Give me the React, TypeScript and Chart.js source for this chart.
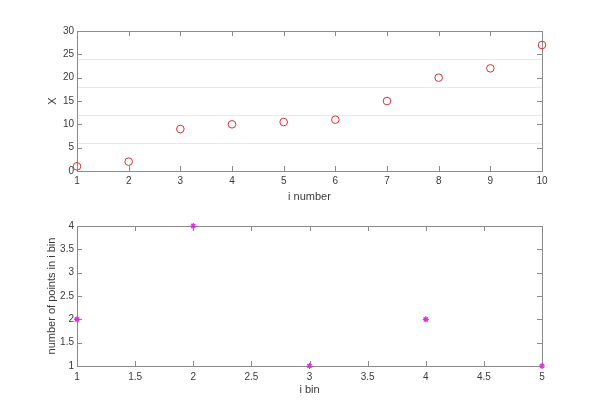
import { useEffect, useRef } from 'react';
import { Chart, registerables } from 'chart.js';

Chart.register(...registerables);

// top subplot: X against i number
const iNumber = [1, 2, 3, 4, 5, 6, 7, 8, 9, 10];
const xValues = [1, 2, 9, 10, 10.5, 11, 15, 20, 22, 27];
const topXTicks = [1, 2, 3, 4, 5, 6, 7, 8, 9, 10];
const topYTicks = [0, 5, 10, 15, 20, 25, 30];
const topGreenLines = [0, 6, 12, 18, 24, 30];

// bottom subplot: points per bin
const binIndex = [1, 2, 3, 4, 5];
const binCounts = [2, 4, 1, 2, 1];
const bottomXTicks = [1, 1.5, 2, 2.5, 3, 3.5, 4, 4.5, 5];
const bottomYTicks = [1, 1.5, 2, 2.5, 3, 3.5, 4];

const FONT = "'Liberation Sans', Arial, sans-serif";
const AXIS_COLOR = '#8a8a8a';
const TEXT_COLOR = '#3a3a3a';
const TICK_LEN = 5;

// MATLAB-like box with inward ticks on all four sides, plus optional green lines
const boxPlugin = {
  id: 'matlabBox',
  beforeDatasetsDraw(chart: any, _args: any, opts: any) {
    const { ctx, chartArea: a, scales } = chart;
    const xs = scales.x;
    const ys = scales.y;
    ctx.save();
    ctx.strokeStyle = AXIS_COLOR;
    ctx.lineWidth = 1;
    ctx.strokeRect(Math.round(a.left) + 0.5, Math.round(a.top) + 0.5,
      Math.round(a.right - a.left), Math.round(a.bottom - a.top));
    ctx.beginPath();
    xs.ticks.forEach((t: any) => {
      const px = Math.round(xs.getPixelForValue(t.value)) + 0.5;
      ctx.moveTo(px, a.bottom);
      ctx.lineTo(px, a.bottom - TICK_LEN);
      ctx.moveTo(px, a.top);
      ctx.lineTo(px, a.top + TICK_LEN);
    });
    ys.ticks.forEach((t: any) => {
      const py = Math.round(ys.getPixelForValue(t.value)) + 0.5;
      ctx.moveTo(a.left, py);
      ctx.lineTo(a.left + TICK_LEN, py);
      ctx.moveTo(a.right, py);
      ctx.lineTo(a.right - TICK_LEN, py);
    });
    ctx.stroke();
    const lines: number[] = (opts && opts.lines) || [];
    if (lines.length) {
      ctx.strokeStyle = 'rgba(70, 215, 70, 0.22)';
      ctx.beginPath();
      lines.forEach((v) => {
        const py = Math.round(ys.getPixelForValue(v)) + 0.5;
        ctx.moveTo(a.left + 1, py);
        ctx.lineTo(a.right, py);
      });
      ctx.stroke();
    }
    ctx.restore();
  },
};

function makeAxis(
  min: number,
  max: number,
  ticks: number[],
  title: string,
  horizontal: boolean,
  size: number,
  tickPad: number,
  titlePad: number
) {
  return {
    type: 'linear' as const,
    position: horizontal ? ('bottom' as const) : ('left' as const),
    min,
    max,
    afterBuildTicks: (scale: any) => {
      scale.ticks = ticks.map((v) => ({ value: v }));
    },
    afterFit: (scale: any) => {
      if (horizontal) scale.height = size;
      else scale.width = size;
    },
    grid: { display: false, drawTicks: false },
    border: { display: false },
    ticks: {
      autoSkip: false,
      maxRotation: 0,
      padding: tickPad,
      color: TEXT_COLOR,
      font: { family: FONT, size: 10 },
      callback: (v: any) => String(v),
    },
    title: {
      display: true,
      text: title,
      color: TEXT_COLOR,
      font: { family: FONT, size: 11 },
      padding: horizontal ? { top: 0, bottom: titlePad } : { top: titlePad, bottom: 0 },
    },
  };
}

function Subplot({ kind }: { kind: 'top' | 'bottom' }) {
  const canvasRef = useRef<HTMLCanvasElement>(null);

  useEffect(() => {
    if (!canvasRef.current) return;
    const ctx = canvasRef.current.getContext('2d');
    if (!ctx) return;

    const isTop = kind === 'top';
    const chart = new Chart(ctx, {
      type: 'scatter',
      data: {
        datasets: [
          isTop
            ? {
                data: iNumber.map((x, i) => ({ x, y: xValues[i] })),
                pointStyle: 'circle',
                pointRadius: 3.8,
                pointBorderWidth: 1,
                pointBorderColor: 'rgb(220, 50, 50)',
                pointBackgroundColor: 'rgba(0,0,0,0)',
                clip: false,
              }
            : {
                data: binIndex.map((x, i) => ({ x, y: binCounts[i] })),
                pointStyle: 'star',
                pointRadius: 3,
                pointBorderWidth: 1.2,
                pointBorderColor: 'rgb(230, 40, 230)',
                pointBackgroundColor: 'rgb(230, 40, 230)',
                clip: false,
              },
        ],
      },
      options: {
        animation: false,
        responsive: false,
        devicePixelRatio: 1,
        events: [],
        layout: {
          padding: isTop
            ? { left: 0, right: 58, top: 31, bottom: 0 }
            : { left: 0, right: 58, top: 20, bottom: 0 },
        },
        plugins: {
          legend: { display: false },
          tooltip: { enabled: false },
          matlabBox: { lines: isTop ? topGreenLines : [] },
        } as any,
        scales: isTop
          ? {
              x: makeAxis(1, 10, topXTicks, 'i number', true, 35, 4, 2.4),
              y: makeAxis(0, 30, topYTicks, 'X', false, 77, 3, 46),
            }
          : {
              x: makeAxis(1, 5, bottomXTicks, 'i bin', true, 46, 5, 15.4),
              y: makeAxis(1, 4, bottomYTicks, 'number of points in i bin', false, 77, 3, 45.5),
            },
      },
      plugins: [boxPlugin],
    });

    return () => {
      chart.destroy();
    };
  }, [kind]);

  return <canvas ref={canvasRef} width={600} height={206} style={{ display: 'block' }} />;
}

export default function App() {
  return (
    <div style={{ position: 'absolute', left: 0, top: 0, width: 600, height: 412, background: '#fff' }}>
      <Subplot kind="top" />
      <Subplot kind="bottom" />
    </div>
  );
}
